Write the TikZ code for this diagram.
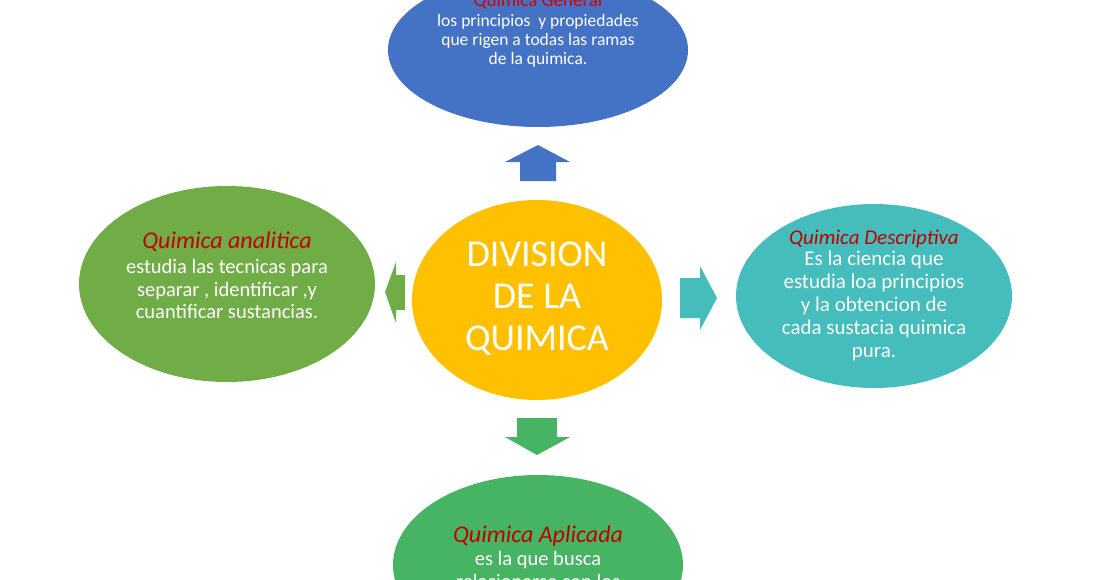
\documentclass[tikz,border=0pt]{standalone}
\usepackage{fontspec}
\setmainfont{Carlito}
\usetikzlibrary{shapes.geometric}
\definecolor{cblue}{HTML}{4472C4}
\definecolor{cyel}{HTML}{FFC000}
\definecolor{cgreen}{HTML}{70AD47}
\definecolor{cteal}{HTML}{45BDBD}
\definecolor{cgreen2}{HTML}{47B464}
\definecolor{cred}{HTML}{C00000}
\begin{document}
\begin{tikzpicture}[x=1pt,y=-1pt,
  blob/.style={ellipse,inner sep=0pt},
  txt/.style={align=center,text=white,font=\fontsize{20.5}{22.5}\selectfont},
  ttl/.style={text=cred,font=\fontsize{24}{26}\selectfont\itshape}]
\useasboundingbox (0,0) rectangle (1104,579);
\clip (0,0) rectangle (1104,579);
\node[blob,fill=cblue,minimum width=300pt,minimum height=154pt] (top) at (538,50) {};
\node[blob,fill=cyel,minimum width=250pt,minimum height=200pt] (mid) at (537,300) {};
\node[blob,fill=cgreen,minimum width=296pt,minimum height=196pt] (left) at (227,284) {};
\node[blob,fill=cteal,minimum width=276pt,minimum height=184pt] (right) at (874,296) {};
\node[blob,fill=cgreen2,minimum width=290pt,minimum height=180pt] (bot) at (538,565) {};
% texts
\node[text=red!85!black,font=\fontsize{19}{20}\selectfont] (tt) at (538,1) {Quimica General};
\node[txt,font=\fontsize{17.5}{19}\selectfont] (tb) at (538,41) {los principios\ \ y propiedades\\que rigen a todas las ramas\\de la quimica.};
\node[txt,font=\fontsize{38}{42}\selectfont] (mt) at (537,299) {DIVISION\\DE LA\\QUIMICA};
\node[ttl] (lt) at (227,242) {Quimica analitica};
\node[txt] (lb) at (227,289) {estudia las tecnicas para\\separar , identificar ,y\\cuantificar sustancias.};
\node[ttl,font=\fontsize{21}{22}\selectfont\itshape] (rt) at (874,239) {Quimica Descriptiva};
\node[txt,font=\fontsize{21}{23}\selectfont] (rb) at (874,306) {Es la ciencia que\\estudia loa principios\\y la obtencion de\\cada sustacia quimica\\pura.};
\node[ttl] (bt) at (538,536) {Quimica Aplicada};
\node[txt,font=\fontsize{20.5}{22.5}\selectfont,anchor=north] (bb) at (538,548) {es la que busca\\relacionarse con los};
% arrows
\fill[cblue] (520,181) -- (520,162) -- (505,162) -- (538,145) -- (570,162) -- (556,162) -- (556,181) -- cycle;
\fill[cgreen2] (517,418) -- (557,418) -- (557,437) -- (570,437) -- (537,455) -- (505,437) -- (517,437) -- cycle;
\fill[cteal] (680,278) -- (700,278) -- (700,266) -- (717,298) -- (700,330) -- (700,318) -- (680,318) -- cycle;
\fill[cgreen] (405,275) -- (396,275) -- (396,262) -- (385,292) -- (396,323) -- (396,310) -- (405,310) -- cycle;
\end{tikzpicture}
\end{document}
